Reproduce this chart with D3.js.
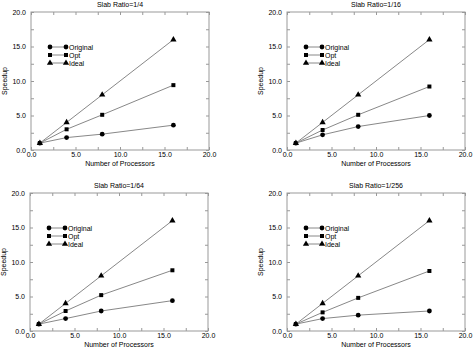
<!DOCTYPE html>
<html>
<head>
<meta charset="utf-8">
<script src="https://cdn.jsdelivr.net/npm/d3@7"></script>
<style>
  body { margin: 0; background: #fff; }
  svg text { font-family: "Liberation Sans", Arial, sans-serif; }
</style>
</head>
<body>
<div id="chart"></div>
<script>
// data
var procs = [1, 4, 8, 16];
var titles = ["Slab Ratio=1/4", "Slab Ratio=1/16", "Slab Ratio=1/64", "Slab Ratio=1/256"];
var original = [
  [1, 1.8, 2.3, 3.6],
  [1, 2.2, 3.4, 5.0],
  [1, 1.8, 2.9, 4.4],
  [1, 1.8, 2.3, 2.9]
];
var opt = [
  [1, 3.0, 5.1, 9.4],
  [1, 2.9, 5.1, 9.2],
  [1, 2.9, 5.2, 8.8],
  [1, 2.7, 4.8, 8.7]
];
var ideal = [1, 4, 8, 16];
var seriesNames = ["Original", "Opt", "Ideal"];
var tickVals = [0, 2.5, 5, 7.5, 10, 12.5, 15, 17.5, 20];

var svgWidth = 474, svgHeight = 349;
var width = 178, height = 138;
// top-left corner of each plot area
var panels = [
  {left: 31, top: 12},
  {left: 287, top: 12},
  {left: 30, top: 193},
  {left: 287, top: 193}
];

var svg = d3.select("#chart").append("svg")
  .attr("width", svgWidth)
  .attr("height", svgHeight);

var xScale = d3.scaleLinear().domain([0, 20]).range([0, width]);
var yScale = d3.scaleLinear().domain([0, 20]).range([height, 0]);

var fmt = function(d) { return d % 5 === 0 ? d3.format(".1f")(d) : ""; };

var symbols = [d3.symbolCircle, d3.symbolSquare, d3.symbolTriangle];
var symSizes = [18, 16, 17];

panels.forEach(function(p, i) {
  var g = svg.append("g").attr("transform", `translate(${p.left}, ${p.top})`);

  // frame
  g.append("rect")
    .attr("width", width).attr("height", height)
    .attr("fill", "none").attr("stroke", "#999").attr("stroke-width", 1);

  var axes = [
    {axis: d3.axisBottom(xScale).tickFormat(fmt).tickPadding(2), tr: `translate(0, ${height})`},
    {axis: d3.axisLeft(yScale).tickFormat(fmt).tickPadding(5), tr: ""},
    {axis: d3.axisTop(xScale).tickFormat(""), tr: ""},
    {axis: d3.axisRight(yScale).tickFormat(""), tr: `translate(${width}, 0)`}
  ];
  axes.forEach(function(a) {
    var ag = g.append("g")
      .attr("transform", a.tr)
      .call(a.axis.tickValues(tickVals).tickSizeInner(-3).tickSizeOuter(0));
    ag.select(".domain").remove();
    ag.selectAll("line").attr("stroke", "#999");
    ag.selectAll("text").attr("font-size", "7px").attr("fill", "#000");
  });

  // title
  g.append("text")
    .attr("x", width / 2).attr("y", -5)
    .attr("text-anchor", "middle")
    .attr("font-size", "7px")
    .attr("fill", "#000")
    .text(titles[i]);

  // axis labels
  g.append("text")
    .attr("x", width / 2).attr("y", height + 16)
    .attr("text-anchor", "middle")
    .attr("font-size", "7px")
    .attr("fill", "#000")
    .text("Number of Processors");

  g.append("text")
    .attr("transform", `translate(-24, ${height / 2}) rotate(-90)`)
    .attr("text-anchor", "middle")
    .attr("font-size", "7px")
    .attr("fill", "#000")
    .text("Speedup");

  var data = [original[i], opt[i], ideal];
  var line = d3.line()
    .x(function(d) { return xScale(d[0]); })
    .y(function(d) { return yScale(d[1]); });

  data.forEach(function(vals, s) {
    var pts = procs.map(function(x, k) { return [x, vals[k]]; });
    g.append("path")
      .attr("d", line(pts))
      .attr("fill", "none")
      .attr("stroke", "#888")
      .attr("stroke-width", 1);
    g.selectAll(".pt" + s)
      .data(pts)
      .enter()
      .append("path")
      .attr("transform", function(d) { return `translate(${xScale(d[0])}, ${yScale(d[1])})`; })
      .attr("d", d3.symbol().type(symbols[s]).size(symSizes[s]))
      .attr("fill", "#000");
  });

  // legend
  var lg = g.append("g").attr("transform", "translate(19, 35)");
  seriesNames.forEach(function(name, s) {
    var row = lg.append("g").attr("transform", `translate(0, ${s * 8})`);
    row.append("line")
      .attr("x1", 0).attr("x2", 16)
      .attr("stroke", "#888");
    [0, 16].forEach(function(x) {
      row.append("path")
        .attr("transform", `translate(${x}, 0)`)
        .attr("d", d3.symbol().type(symbols[s]).size(symSizes[s]))
        .attr("fill", "#000");
    });
    row.append("text")
      .attr("x", 19).attr("y", 2.5)
      .attr("font-size", "7px")
      .attr("fill", "#000")
      .text(name);
  });
});
</script>
</body>
</html>
